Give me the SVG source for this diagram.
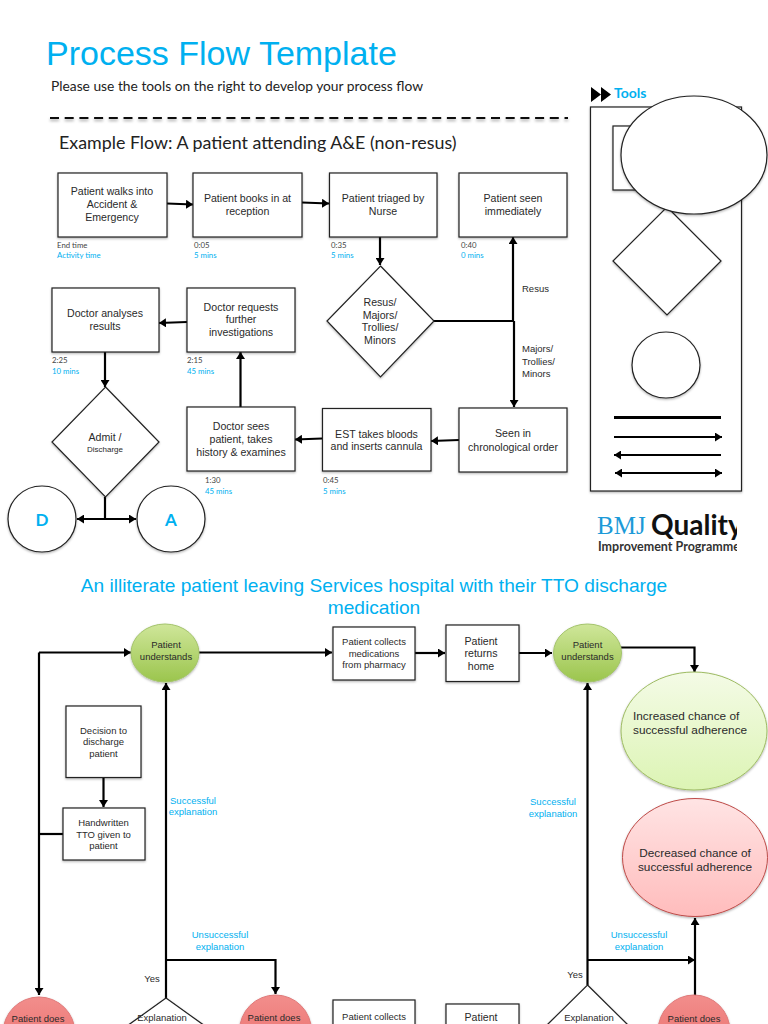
<svg xmlns="http://www.w3.org/2000/svg" width="768" height="1024" viewBox="0 0 768 1024">
<style>
text{font-family:"Liberation Sans",Arial,sans-serif;font-size:10.6px;fill:#2a2a2a;text-anchor:middle}
.n{fill:#fff;stroke:#222;stroke-width:1.2;filter:url(#sh)}
.c{fill:none;stroke:#000;stroke-width:2.200}
.ca{marker-end:url(#ah)}
.cs{marker-start:url(#as);marker-end:url(#ah)}
.t{font-family:Lato,"Open Sans",sans-serif;font-size:7.800px;text-anchor:start;fill:#444}
.b{font-family:Lato,"Open Sans",sans-serif;font-size:7.800px;text-anchor:start;fill:#00b0f0}
.l{font-size:9.500px}
.bl{fill:#00b0f0;font-size:9.500px}
.s{font-size:9.500px}
.g{fill:url(#gr);stroke:#a4c46c;stroke-width:1;filter:url(#sh)}
.r{fill:url(#rd);stroke:#e07a7a;stroke-width:1;filter:url(#sh)}
.lg{fill:url(#lgr);stroke:#9dbb61;stroke-width:1;filter:url(#sh)}
.lr{fill:url(#lrd);stroke:#be4b48;stroke-width:1;filter:url(#sh)}
</style>
<defs>
<filter id="sh" x="-10%" y="-10%" width="120%" height="125%"><feDropShadow dx="0" dy="1.2" stdDeviation="1" flood-color="#000" flood-opacity="0.3"/></filter>
<filter id="shl" filterUnits="userSpaceOnUse" x="40" y="110" width="540" height="20"><feDropShadow dx="0" dy="2" stdDeviation="1.500" flood-color="#000" flood-opacity="0.35"/></filter>
<marker id="ah" markerUnits="userSpaceOnUse" markerWidth="8" markerHeight="9" refX="7" refY="4.500" orient="auto"><path d="M0 0L7 4.500L0 9Z" fill="#000"/></marker>
<marker id="as" markerUnits="userSpaceOnUse" markerWidth="8" markerHeight="9" refX="0" refY="4.500" orient="auto"><path d="M7 0L0 4.500L7 9Z" fill="#000"/></marker>
<linearGradient id="gr" x1="0" y1="0" x2="0" y2="1"><stop offset="0" stop-color="#cfe69a"/><stop offset="1" stop-color="#9bc54d"/></linearGradient>
<linearGradient id="rd" x1="0" y1="0" x2="0" y2="1"><stop offset="0" stop-color="#f28e8c"/><stop offset="1" stop-color="#e96a68"/></linearGradient>
<linearGradient id="lgr" x1="0" y1="0" x2="0" y2="1"><stop offset="0" stop-color="#f4fbe6"/><stop offset="1" stop-color="#dcf4b4"/></linearGradient>
<linearGradient id="lrd" x1="0" y1="0" x2="0" y2="1"><stop offset="0" stop-color="#ffe4e4"/><stop offset="1" stop-color="#ffbcbc"/></linearGradient>
<clipPath id="logo"><rect x="590" y="505" width="147" height="50"/></clipPath>
</defs>

<text x="46" y="65" style="font-size:34px;fill:#00b0f0;text-anchor:start">Process Flow Template</text>
<text x="51" y="91" style="font-family:Lato,sans-serif;font-size:13.800px;fill:#222;text-anchor:start">Please use the tools on the right to develop your process flow</text>
<path d="M50 118H568" fill="none" stroke="#111" stroke-width="2" stroke-dasharray="9 5.700" filter="url(#shl)"/>
<text x="59" y="149" style="font-family:Lato,sans-serif;font-size:17.850px;fill:#222;text-anchor:start">Example Flow: A patient attending A&amp;E (non-resus)</text>

<g id="tools">
<text x="614" y="98" style="font-family:Lato,sans-serif;font-size:14px;font-weight:700;fill:#00b0f0;text-anchor:start">Tools</text>
<path d="M591 87L601 94.500L591 102ZM601 87L611 94.500L601 102Z" fill="#000"/>
<rect class="n" x="590.500" y="107" width="151" height="384"/>
<rect class="n" x="613" y="126" width="107" height="64"/>
<polygon class="n" points="667,207 721,261 667,315 613,261"/>
<ellipse class="n" cx="666" cy="365" rx="34" ry="33"/>
<ellipse class="n" cx="694" cy="155" rx="73" ry="59"/>
<path class="c" d="M614 417.500H721" style="stroke-width:3"/>
<path class="c ca" d="M614 437H722"/>
<path class="c ca" d="M721 455H614"/>
<path class="c cs" d="M615 473H722"/>
</g>

<g id="logo-text" clip-path="url(#logo)">
<text x="597" y="534" style="font-family:'Liberation Serif',serif;font-size:25px;fill:#1c9ad8;text-anchor:start">BMJ</text>
<text x="651" y="535" style="font-family:Lato,sans-serif;font-size:28px;font-weight:700;fill:#111;text-anchor:start">Quality</text>
<text x="598" y="551" style="font-family:Lato,sans-serif;font-size:12.500px;font-weight:700;fill:#333;text-anchor:start">Improvement Programme</text>
</g>

<g id="connectors">
<path class="c ca" d="M167 203.500L193 204.500"/>
<path class="c ca" d="M302 202.500L329 203.500"/>
<path class="c ca" d="M380 237V265"/>
<path class="c" d="M434 321H513"/>
<path class="c ca" d="M513 321V237"/>
<path class="c ca" d="M514 321V407"/>
<path class="c ca" d="M459 440L431 441"/>
<path class="c ca" d="M322 438.500L295 439.500"/>
<path class="c ca" d="M240.500 407V352"/>
<path class="c ca" d="M187 322L159 323"/>
<path class="c ca" d="M105 352V387"/>
<path class="c" d="M105 497V519"/>
<path class="c cs" d="M77 519H136"/>
<path class="c ca" d="M39 652.500H131"/>
<path class="c ca" d="M199 652.500H332"/>
<path class="c ca" d="M39 652.500V995"/>
<path class="c" d="M39 834H63"/>
<path class="c ca" d="M103.500 777.500V807"/>
<path class="c ca" d="M166 998V683"/>
<path class="c ca" d="M166 960H275.500V994"/>
<path class="c ca" d="M415 653H445"/>
<path class="c ca" d="M519 653H552"/>
<path class="c ca" d="M621 647.500H694.500V672"/>
<path class="c ca" d="M587.500 985V683"/>
<path class="c ca" d="M587.500 960H695"/>
<path class="c ca" d="M695 996V918"/>
</g>

<g id="n1"><rect class="n" x="58" y="173" width="109" height="64"/><text x="112" y="195">Patient walks into</text><text x="112" y="208">Accident &amp;</text><text x="112" y="221">Emergency</text><text class="t" x="57" y="248">End time</text><text class="b" x="57" y="258">Activity time</text></g>
<g id="n2"><rect class="n" x="193" y="173" width="109" height="64"/><text x="247.500" y="202">Patient books in at</text><text x="247.500" y="215">reception</text><text class="t" x="194" y="248">0:05</text><text class="b" x="194" y="258">5 mins</text></g>
<g id="n3"><rect class="n" x="329.500" y="173" width="107.500" height="64"/><text x="383" y="202">Patient triaged by</text><text x="383" y="215">Nurse</text><text class="t" x="331" y="248">0:35</text><text class="b" x="331" y="258">5 mins</text></g>
<g id="n4"><rect class="n" x="459" y="173" width="108" height="64"/><text x="513" y="202">Patient seen</text><text x="513" y="215">immediately</text><text class="t" x="461" y="248">0:40</text><text class="b" x="461" y="258">0 mins</text></g>
<g id="n5"><polygon class="n" points="380.500,266 434,321 380.500,377 327,321"/><text x="380" y="306">Resus/</text><text x="380" y="319">Majors/</text><text x="380" y="331">Trollies/</text><text x="380" y="344">Minors</text></g>
<g id="lbl1"><text class="l" x="522" y="292" style="text-anchor:start">Resus</text><text class="l" x="522" y="352" style="text-anchor:start">Majors/</text><text class="l" x="522" y="365" style="text-anchor:start">Trollies/</text><text class="l" x="522" y="377" style="text-anchor:start">Minors</text></g>
<g id="n6"><rect class="n" x="459" y="408" width="108" height="64"/><text x="513" y="437">Seen in</text><text x="513" y="451">chronological order</text></g>
<g id="n7"><rect class="n" x="322.500" y="408.500" width="108.500" height="62.500"/><text x="376.500" y="438">EST takes bloods</text><text x="376.500" y="450">and inserts cannula</text><text class="t" x="323" y="483">0:45</text><text class="b" x="323" y="494">5 mins</text></g>
<g id="n8"><rect class="n" x="187" y="407" width="108" height="64"/><text x="241" y="430">Doctor sees</text><text x="241" y="443">patient, takes</text><text x="241" y="456">history &amp; examines</text><text class="t" x="205" y="483">1:30</text><text class="b" x="205" y="494">45 mins</text></g>
<g id="n9"><rect class="n" x="187" y="288" width="108" height="64"/><text x="241" y="311">Doctor requests</text><text x="241" y="323">further</text><text x="241" y="336">investigations</text><text class="t" x="187" y="363">2:15</text><text class="b" x="187" y="374">45 mins</text></g>
<g id="n10"><rect class="n" x="52" y="288" width="107" height="64"/><text x="105" y="317">Doctor analyses</text><text x="105" y="330">results</text><text class="t" x="52" y="363">2:25</text><text class="b" x="52" y="374">10 mins</text></g>
<g id="n11"><polygon class="n" points="105.500,387 159,442 105.500,497 52,442"/><text x="105" y="441">Admit /</text><text x="105" y="452" style="font-size:8px">Discharge</text></g>
<g id="n12"><ellipse class="n" cx="42" cy="519" rx="34" ry="33"/><text x="42" y="526" style="font-family:Lato,sans-serif;font-size:17px;font-weight:700;fill:#00b0f0">D</text></g>
<g id="n13"><ellipse class="n" cx="171" cy="519" rx="34" ry="33"/><text x="171" y="526" style="font-family:Lato,sans-serif;font-size:17px;font-weight:700;fill:#00b0f0">A</text></g>

<text x="374" y="592" style="font-size:19.150px;fill:#00b0f0">An illiterate patient leaving Services hospital with their TTO discharge</text>
<text x="374" y="614" style="font-size:19.150px;fill:#00b0f0">medication</text>

<g id="m1"><ellipse class="g" cx="165" cy="653" rx="34" ry="29"/><text class="s" x="166" y="648">Patient</text><text class="s" x="166" y="660">understands</text></g>
<g id="m2"><rect class="n" x="333" y="627" width="82" height="53"/><text class="s" x="374" y="645">Patient collects</text><text class="s" x="374" y="657">medications</text><text class="s" x="374" y="668">from pharmacy</text></g>
<g id="m3"><rect class="n" x="446" y="625" width="73" height="56.500"/><text x="481" y="645">Patient</text><text x="481" y="657">returns</text><text x="481" y="670">home</text></g>
<g id="m4"><ellipse class="g" cx="587.500" cy="653" rx="34" ry="29"/><text class="s" x="587.500" y="648">Patient</text><text class="s" x="587.500" y="660">understands</text></g>
<g id="m5"><ellipse class="lg" cx="694" cy="731" rx="73" ry="59"/><text x="633" y="720" style="font-size:11.800px;text-anchor:start">Increased chance of</text><text x="633" y="734" style="font-size:11.800px;text-anchor:start">successful adherence</text></g>
<g id="m6"><ellipse class="lr" cx="695" cy="857.500" rx="72.500" ry="59"/><text x="695" y="857" style="font-size:11.800px">Decreased chance of</text><text x="695" y="871" style="font-size:11.800px">successful adherence</text></g>
<g id="m7"><rect class="n" x="66" y="706" width="75" height="71.500"/><text class="s" x="103.500" y="734">Decision to</text><text class="s" x="103.500" y="745">discharge</text><text class="s" x="103.500" y="757">patient</text></g>
<g id="m8"><rect class="n" x="63" y="808" width="82" height="52"/><text class="s" x="103.500" y="826">Handwritten</text><text class="s" x="103.500" y="838">TTO given to</text><text class="s" x="103.500" y="849">patient</text></g>
<g id="m9"><polygon class="n" points="166,998 205,1026 127,1026"/><text class="s" x="162" y="1021">Explanation</text></g>
<g id="m10"><circle class="r" cx="39" cy="1033" r="36"/><text class="s" x="38" y="1022">Patient does</text></g>
<g id="m11"><circle class="r" cx="275.500" cy="1031" r="36"/><text class="s" x="274" y="1021">Patient does</text></g>
<g id="m12"><rect class="n" x="333" y="1000" width="82" height="40"/><text class="s" x="374" y="1020">Patient collects</text></g>
<g id="m13"><rect class="n" x="446" y="1004" width="73" height="40"/><text x="481" y="1021">Patient</text></g>
<g id="m14"><polygon class="n" points="587.500,985 629,1026 546,1026"/><text class="s" x="589" y="1021">Explanation</text></g>
<g id="m15"><circle class="r" cx="694" cy="1031" r="36"/><text class="s" x="694" y="1022">Patient does</text></g>

<g id="labels">
<text class="bl" x="193" y="804">Successful</text><text class="bl" x="193" y="815">explanation</text>
<text class="bl" x="220" y="938">Unsuccessful</text><text class="bl" x="220" y="950">explanation</text>
<text class="l" x="152" y="982">Yes</text>
<text class="bl" x="553" y="805">Successful</text><text class="bl" x="553" y="817">explanation</text>
<text class="bl" x="639" y="938">Unsuccessful</text><text class="bl" x="639" y="950">explanation</text>
<text class="l" x="575" y="978">Yes</text>
</g>
</svg>
